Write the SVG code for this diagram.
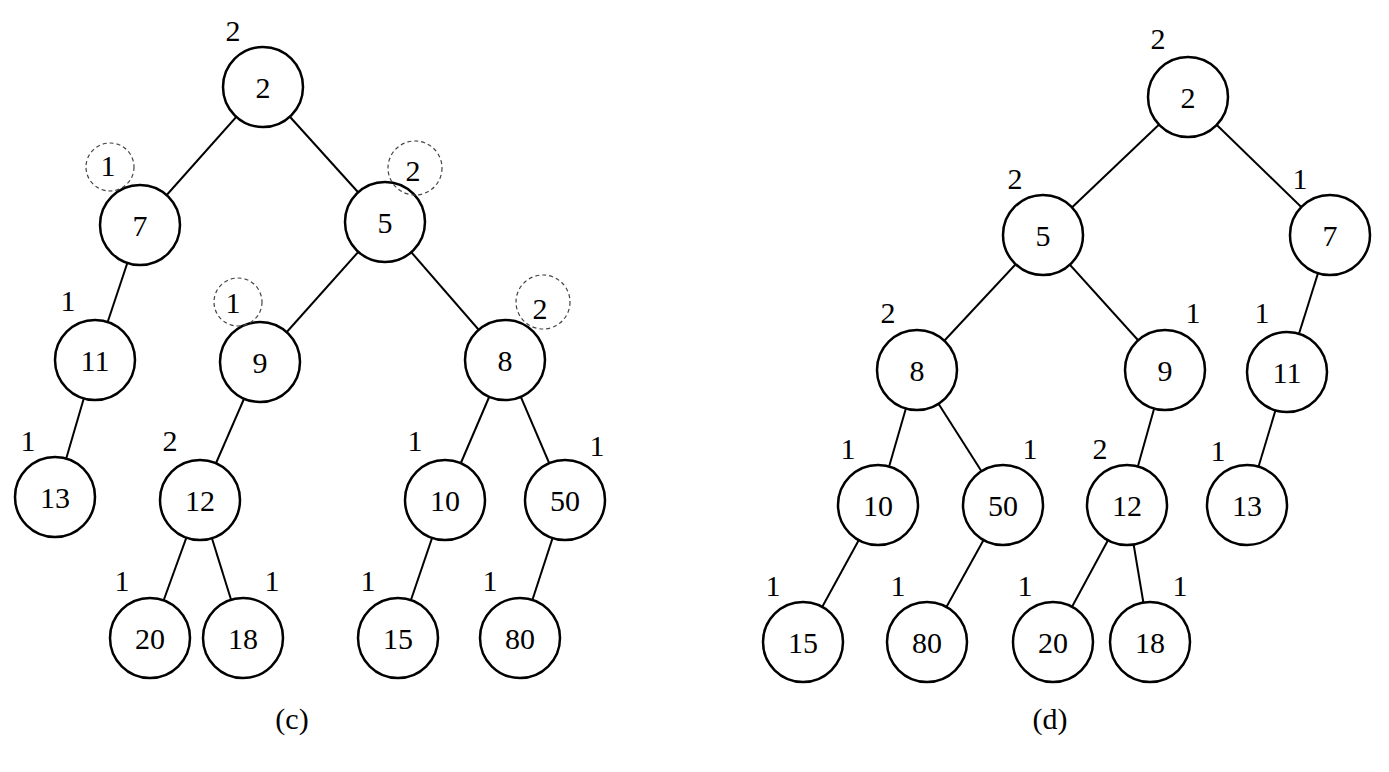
<svg xmlns="http://www.w3.org/2000/svg" width="1389" height="772" viewBox="0 0 1389 772">
<style>
.n circle{fill:#fff;stroke:#000;stroke-width:2.5}
text{font-family:"Liberation Serif",serif;font-size:30px;text-anchor:middle;dominant-baseline:central;fill:#000}
.e line{stroke:#000;stroke-width:2}
.d{fill:none;stroke:#444;stroke-width:1.2;stroke-dasharray:4 3}
</style>
<rect width="1389" height="772" fill="#fff"/>
<g class="e">
<line x1="263" y1="87" x2="140" y2="225"/><line x1="263" y1="87" x2="385" y2="222"/>
<line x1="140" y1="225" x2="95" y2="360"/><line x1="95" y1="360" x2="55" y2="497"/>
<line x1="385" y1="222" x2="260" y2="362"/><line x1="385" y1="222" x2="505" y2="360"/>
<line x1="260" y1="362" x2="200" y2="500"/><line x1="200" y1="500" x2="150" y2="638"/><line x1="200" y1="500" x2="243" y2="638"/>
<line x1="505" y1="360" x2="445" y2="500"/><line x1="505" y1="360" x2="565" y2="500"/>
<line x1="445" y1="500" x2="398" y2="638"/><line x1="565" y1="500" x2="520" y2="638"/>
<line x1="1188" y1="97" x2="1043" y2="235"/><line x1="1188" y1="97" x2="1330" y2="235"/>
<line x1="1043" y1="235" x2="917" y2="370"/><line x1="1043" y1="235" x2="1165" y2="370"/>
<line x1="1330" y1="235" x2="1287" y2="372"/><line x1="1287" y1="372" x2="1247" y2="505"/>
<line x1="917" y1="370" x2="878" y2="505"/><line x1="917" y1="370" x2="1003" y2="505"/>
<line x1="1165" y1="370" x2="1127" y2="505"/>
<line x1="878" y1="505" x2="803" y2="642"/><line x1="1003" y1="505" x2="927" y2="642"/>
<line x1="1127" y1="505" x2="1053" y2="642"/><line x1="1127" y1="505" x2="1150" y2="642"/>
</g>
<g id="c2" class="n"><circle cx="263" cy="87" r="40"/><text x="263" y="87">2</text></g>
<g id="c7" class="n"><circle cx="140" cy="225" r="40"/><text x="140" y="225">7</text></g>
<g id="c5" class="n"><circle cx="385" cy="222" r="40"/><text x="385" y="222">5</text></g>
<g id="c11" class="n"><circle cx="95" cy="360" r="40"/><text x="95" y="360">11</text></g>
<g id="c9" class="n"><circle cx="260" cy="362" r="40"/><text x="260" y="362">9</text></g>
<g id="c8" class="n"><circle cx="505" cy="360" r="40"/><text x="505" y="360">8</text></g>
<g id="c13" class="n"><circle cx="55" cy="497" r="40"/><text x="55" y="497">13</text></g>
<g id="c12" class="n"><circle cx="200" cy="500" r="40"/><text x="200" y="500">12</text></g>
<g id="c10" class="n"><circle cx="445" cy="500" r="40"/><text x="445" y="500">10</text></g>
<g id="c50" class="n"><circle cx="565" cy="500" r="40"/><text x="565" y="500">50</text></g>
<g id="c20" class="n"><circle cx="150" cy="638" r="40"/><text x="150" y="638">20</text></g>
<g id="c18" class="n"><circle cx="243" cy="638" r="40"/><text x="243" y="638">18</text></g>
<g id="c15" class="n"><circle cx="398" cy="638" r="40"/><text x="398" y="638">15</text></g>
<g id="c80" class="n"><circle cx="520" cy="638" r="40"/><text x="520" y="638">80</text></g>
<g id="d2" class="n"><circle cx="1188" cy="97" r="40"/><text x="1188" y="97">2</text></g>
<g id="d5" class="n"><circle cx="1043" cy="235" r="40"/><text x="1043" y="235">5</text></g>
<g id="d7" class="n"><circle cx="1330" cy="235" r="40"/><text x="1330" y="235">7</text></g>
<g id="d8" class="n"><circle cx="917" cy="370" r="40"/><text x="917" y="370">8</text></g>
<g id="d9" class="n"><circle cx="1165" cy="370" r="40"/><text x="1165" y="370">9</text></g>
<g id="d11" class="n"><circle cx="1287" cy="372" r="40"/><text x="1287" y="372">11</text></g>
<g id="d10" class="n"><circle cx="878" cy="505" r="40"/><text x="878" y="505">10</text></g>
<g id="d50" class="n"><circle cx="1003" cy="505" r="40"/><text x="1003" y="505">50</text></g>
<g id="d12" class="n"><circle cx="1127" cy="505" r="40"/><text x="1127" y="505">12</text></g>
<g id="d13" class="n"><circle cx="1247" cy="505" r="40"/><text x="1247" y="505">13</text></g>
<g id="d15" class="n"><circle cx="803" cy="642" r="40"/><text x="803" y="642">15</text></g>
<g id="d80" class="n"><circle cx="927" cy="642" r="40"/><text x="927" y="642">80</text></g>
<g id="d20" class="n"><circle cx="1053" cy="642" r="40"/><text x="1053" y="642">20</text></g>
<g id="d18" class="n"><circle cx="1150" cy="642" r="40"/><text x="1150" y="642">18</text></g>
<g id="labels">
<text x="233" y="30">2</text><text x="108" y="165">1</text><text x="413" y="170">2</text>
<text x="68" y="300">1</text><text x="233" y="302">1</text><text x="540" y="308">2</text>
<text x="28" y="440">1</text><text x="170" y="440">2</text><text x="415" y="440">1</text><text x="597" y="445">1</text>
<text x="122" y="580">1</text><text x="272" y="580">1</text><text x="368" y="580">1</text><text x="490" y="580">1</text>
<text x="1158" y="38">2</text><text x="1015" y="178">2</text><text x="1300" y="178">1</text>
<text x="888" y="312">2</text><text x="1193" y="312">1</text><text x="1262" y="312">1</text>
<text x="848" y="448">1</text><text x="1030" y="448">1</text><text x="1100" y="448">2</text><text x="1218" y="450">1</text>
<text x="773" y="585">1</text><text x="898" y="585">1</text><text x="1025" y="585">1</text><text x="1180" y="585">1</text>
<text x="292" y="718">(c)</text><text x="1050" y="718">(d)</text>
</g>
<g id="marks">
<circle class="d" cx="110" cy="167" r="24"/><circle class="d" cx="415" cy="168" r="27"/>
<circle class="d" cx="238" cy="302" r="24"/><circle class="d" cx="543" cy="302" r="27"/>
</g>
</svg>
